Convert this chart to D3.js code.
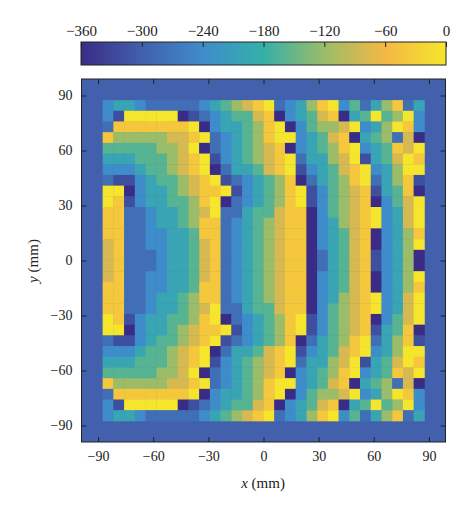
<!DOCTYPE html>
<html><head><meta charset="utf-8">
<script src="https://cdn.jsdelivr.net/npm/d3@7"></script>
<style>body{margin:0;background:#fff}</style></head>
<body><svg id="c" width="474" height="513"></svg>
<script>
// grid: 30x30 cells spanning -87.5..87.5 mm; level L -> value -360 + 40*L
const rowsLevels = [
"344322222345678923468935246824",
"319999901234557803457804595693",
"288888889034456890356679346983",
"866666778923456899345780456270",
"555556679023456780345689345879",
"444555678913456789244679145798",
"333455678902445789134578934699",
"211345567891234568024568924681",
"990344567889134568913567814580",
"981344556890234568913567803579",
"882234456792245578803567893479",
"882234456882345678803467893479",
"882233445882345678803457803468",
"782233445782345678803457803469",
"782223445782345678802457813460",
"782223445782345678802457813460",
"782233445782345678803457803469",
"882233445882345678803457803468",
"882234456882345678803467893479",
"882234456792245578803567893479",
"981344556890234568913567803579",
"990344567889134568913567814580",
"211345567891234568024568924681",
"333455678902445789134578934699",
"444555678913456789244679145798",
"555556679023456780345689345879",
"866666778923456899345780456270",
"288888889034456890356679346983",
"319999901234557803457804595693",
"344322222345678923468935246824"
];
const cellCenters = [-84.58,-78.75,-72.92,-67.08,-61.25,-55.42,-49.58,-43.75,-37.92,-32.08,-26.25,-20.42,-14.58,-8.75,-2.92,2.92,8.75,14.58,20.42,26.25,32.08,37.92,43.75,49.58,55.42,61.25,67.08,72.92,78.75,84.58];
const cellSize = 35/6;
const axisTicks = [-90,-60,-30,0,30,60,90];
const cbTicks = [-360,-300,-240,-180,-120,-60,0];
const backgroundValue = -300;

const cells = [];
rowsLevels.forEach((s,r)=>{ [...s].forEach((ch,c)=>{ cells.push({x:cellCenters[c], y:cellCenters[cellCenters.length-1-r], v:-360+40*(+ch)}); }); });

const stops = ["#3a2c86","#4260ab","#3f8ccb","#35b0a8","#9bbc68","#f4b845","#f5e52c"];
const color = d3.scaleLinear().domain(d3.range(7).map(i=>-360+60*i)).range(stops).interpolate(d3.interpolateRgb).clamp(true);

const svg = d3.select("#c");
const font = "Liberation Serif";
const x = d3.scaleLinear().domain([-99,99]).range([81.5,445.5]);
const y = d3.scaleLinear().domain([-99,99]).range([442,79]);

svg.append("rect").attr("x",x(-99)).attr("y",y(99)).attr("width",x(99)-x(-99)).attr("height",y(-99)-y(99)).attr("fill",color(backgroundValue));
const w = x(cellSize)-x(0), h = y(0)-y(cellSize);
svg.append("g").selectAll("rect").data(cells).join("rect")
 .attr("x",d=>x(d.x-cellSize/2)).attr("y",d=>y(d.y+cellSize/2))
 .attr("width",w+0.4).attr("height",h+0.4).attr("fill",d=>color(d.v));
svg.append("rect").attr("x",x(-99)).attr("y",y(99)).attr("width",x(99)-x(-99)).attr("height",y(-99)-y(99)).attr("fill","none").attr("stroke","#222").attr("stroke-width",1);

function styleAx(g){ g.select(".domain").remove(); g.selectAll("text").attr("font-family",font).attr("font-size",14).attr("fill","#222"); g.selectAll("line").attr("stroke","#222"); }
const fmt = d=>d<0?"\u2212"+Math.abs(d):d;
svg.append("g").attr("transform",`translate(0,${y(-99)})`).call(d3.axisBottom(x).tickValues(axisTicks).tickSizeInner(-5).tickPadding(9).tickFormat(fmt)).call(styleAx);
svg.append("g").attr("transform",`translate(0,${y(99)})`).call(d3.axisTop(x).tickValues(axisTicks).tickSizeInner(-5).tickFormat("")).call(styleAx);
svg.append("g").attr("transform",`translate(${x(-99)},0)`).call(d3.axisLeft(y).tickValues(axisTicks).tickSizeInner(-5).tickPadding(9).tickFormat(fmt)).call(styleAx);
svg.append("g").attr("transform",`translate(${x(99)},0)`).call(d3.axisRight(y).tickValues(axisTicks).tickSizeInner(-5).tickFormat("")).call(styleAx);

const xl = svg.append("text").attr("x",263).attr("y",488).attr("text-anchor","middle").attr("font-family",font).attr("font-size",15).attr("fill","#222");
xl.append("tspan").attr("font-style","italic").text("x");xl.append("tspan").text(" (mm)");
const yl = svg.append("text").attr("transform","translate(38,261) rotate(-90)").attr("text-anchor","middle").attr("font-family",font).attr("font-size",15).attr("fill","#222");
yl.append("tspan").attr("font-style","italic").text("y");yl.append("tspan").text(" (mm)");

// colorbar
const cb = d3.scaleLinear().domain([-360,0]).range([81,446]);
const defs = svg.append("defs");
const lg = defs.append("linearGradient").attr("id","g");
stops.forEach((s,i)=>lg.append("stop").attr("offset",i/6).attr("stop-color",s));
svg.append("rect").attr("x",81).attr("y",42).attr("width",365).attr("height",23).attr("fill","url(#g)").attr("stroke","#222").attr("stroke-width",1);
svg.append("g").attr("transform","translate(0,42)").call(d3.axisTop(cb).tickValues(cbTicks).tickSizeInner(-5).tickPadding(6).tickFormat(fmt)).call(styleAx).selectAll("text").attr("font-size",15);
</script></body></html>
